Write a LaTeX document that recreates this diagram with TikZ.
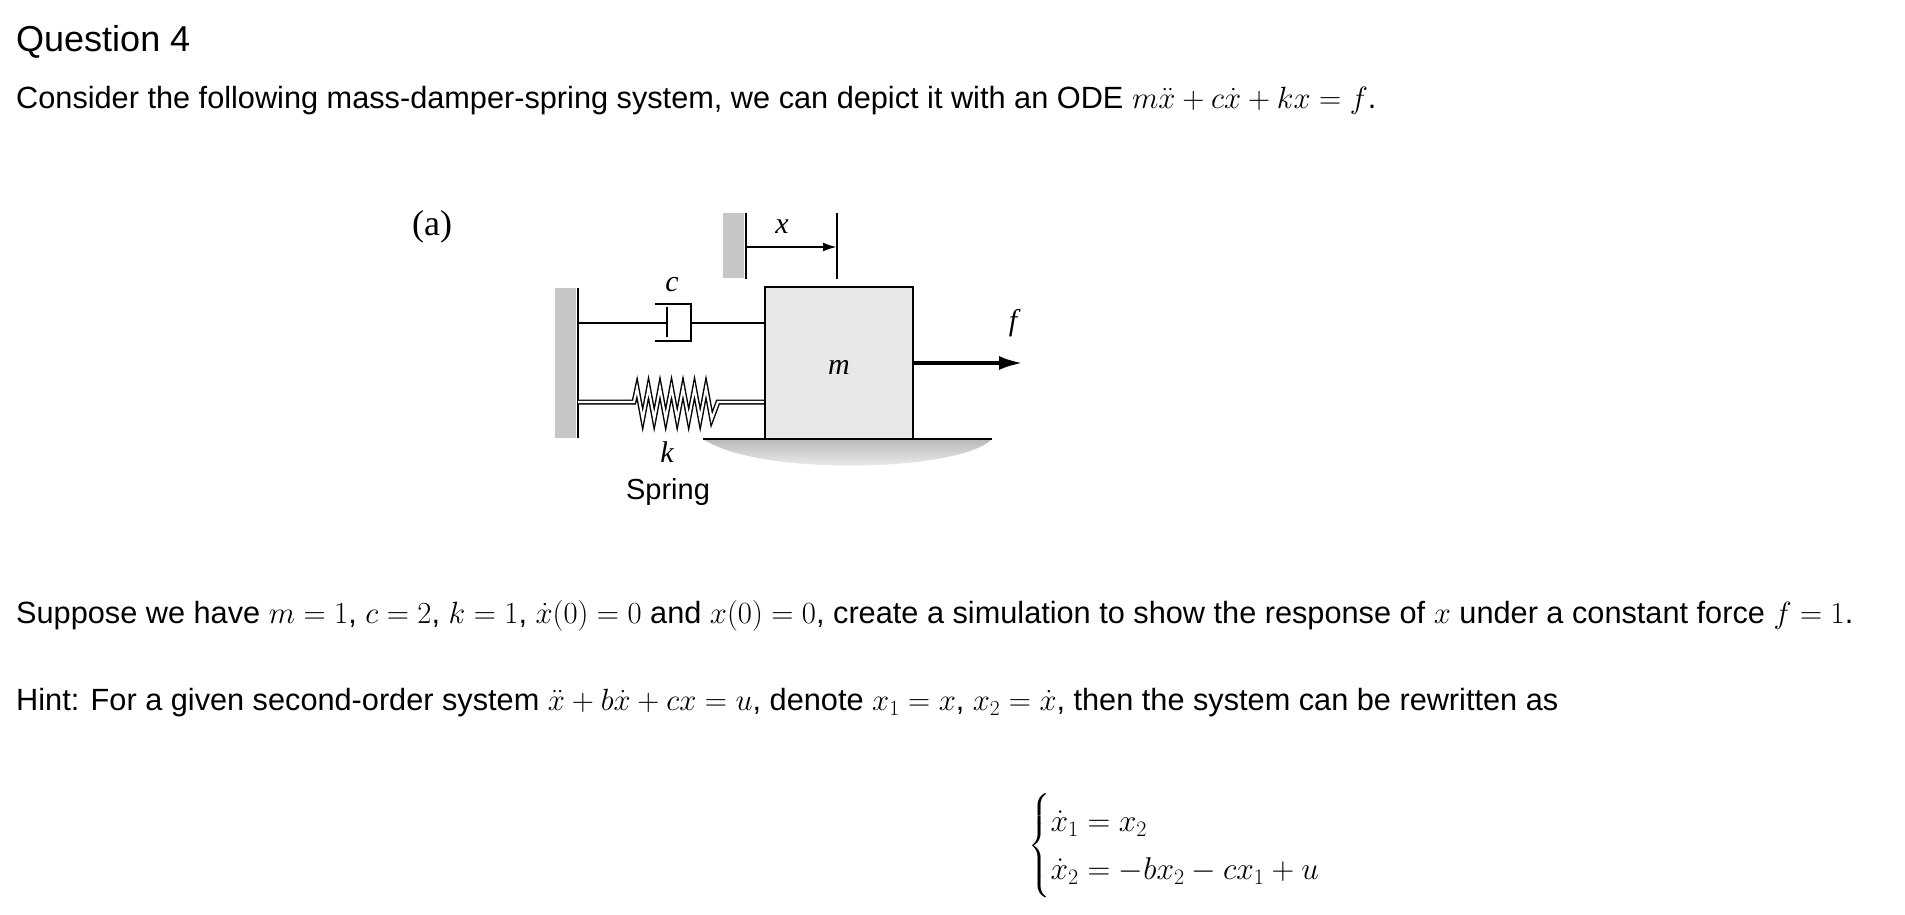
\RequirePackage{fix-cm}
\documentclass[tikz,border=0pt]{standalone}
\usepackage{amsmath}
\usepackage{fontspec}
\usetikzlibrary{arrows.meta}
\setsansfont{Liberation Sans}
\newfontfamily\tms{Liberation Serif}
\begin{document}
\begin{tikzpicture}[x=1pt,y=-1pt,
  txt/.style={inner sep=0pt,anchor=west,font=\sffamily\fontsize{30.7}{36}\selectfont},
  lbl/.style={inner sep=0pt,font=\tms\itshape\fontsize{30}{32}\selectfont},
  wall/.style={fill=gray!45,draw=none},
  ln/.style={line width=2.3pt},
  arr/.style={-{Latex[length=14pt,width=9pt]}}]
\useasboundingbox (0,0) rectangle (1905,915);
\fill[white] (0,0) rectangle (1905,915);
\node[txt,font=\sffamily\fontsize{36}{40}\selectfont] (q) at (16,42) {Question 4};
\node[txt] (l1) at (16,101) {Consider the following mass-damper-spring system, we can depict it with an ODE $m\ddot{x}+c\dot{x}+kx=f$.};
\node[txt] (l2) at (16,616) {Suppose we have $m=1$, $c=2$, $k=1$, $\dot{x}(0)=0$ and $x(0)=0$, create a simulation to show the response of $x$ under a constant force $f=1$.};
\node[txt] (l3) at (16,703) {Hint: For a given second-order system $\ddot{x}+b\dot{x}+cx=u$, denote $x_1=x$, $x_2=\dot{x}$, then the system can be rewritten as};
\node[txt,anchor=center,font=\fontsize{31.5}{40}\selectfont] (cs) at (1190,846) {$\renewcommand{\arraystretch}{0.95}\begin{cases}\dot{x}_1=x_2\\ \dot{x}_2=-bx_2-cx_1+u\end{cases}$};
% diagram
\node[inner sep=0pt,font=\tms\fontsize{36}{38}\selectfont] (a) at (432,227) {(a)};
\shade[top color=gray!55,bottom color=white] (703,439) -- (992,439) .. controls (960,472) and (760,477) .. (703,439) -- cycle;
\coordinate (g1) at (703,439); \coordinate (g2) at (992,439);
\draw[ln] (g1) -- (g2);
\fill[wall] (723,213) rectangle (744,278);
\coordinate (tw1) at (746,213); \coordinate (tw2) at (746,279);
\draw[ln] (tw1) -- (tw2);
\fill[wall] (555,288) rectangle (576,438);
\coordinate (lw1) at (578,288); \coordinate (lw2) at (578,438);
\draw[ln] (lw1) -- (lw2);
\node[draw,line width=2.5pt,fill=gray!18,minimum width=148pt,minimum height=152pt,inner sep=0pt] (m) at (839,363) {};
\node[lbl] (ml) at (839,367) {m};
\coordinate (xt1) at (837,213); \coordinate (xt2) at (837,279);
\draw[ln] (xt1) -- (xt2);
\coordinate (xa) at (746,247); \coordinate (xb) at (837,247);
\draw[ln,arr] (xa) -- (xb);
\node[lbl] (xl) at (782,227) {x};
\coordinate (d0) at (578,323); \coordinate (d1) at (667,323);
\draw[ln] (d0) -- (d1);
\coordinate (p1) at (667,307); \coordinate (p2) at (667,337);
\draw[ln] (p1) -- (p2);
\draw[ln] (655,304) -- (691,304) -- (691,341) -- (655,341);
\coordinate (d2) at (691,323);
\draw[ln] (d2) -- (m.west |- d2);
\node[lbl] (cl) at (672,285) {c};
\coordinate (s0) at (578,402); \coordinate (s1) at (631,402);
\draw[line width=1.4pt,double,double distance=2.2pt] (s0) -- (s1) -- (634,402)
  \foreach \i in {0,...,6} { -- ({637+\i*11.5},388) -- ({642.7+\i*11.5},419) } -- (718,402) -- (m.west |- s0);
\node[lbl] (kl) at (667,452) {k};
\node[inner sep=0pt,font=\sffamily\fontsize{29}{32}\selectfont] (sp) at (668,492) {Spring};
\coordinate (f0) at (913,363); \coordinate (f1) at (1023,363);
\draw[line width=4pt,-{Latex[length=24pt,width=14pt]}] (m.east |- f0) -- (f1);
\node[lbl] (fl) at (1013,323) {f};
\end{tikzpicture}
\end{document}
